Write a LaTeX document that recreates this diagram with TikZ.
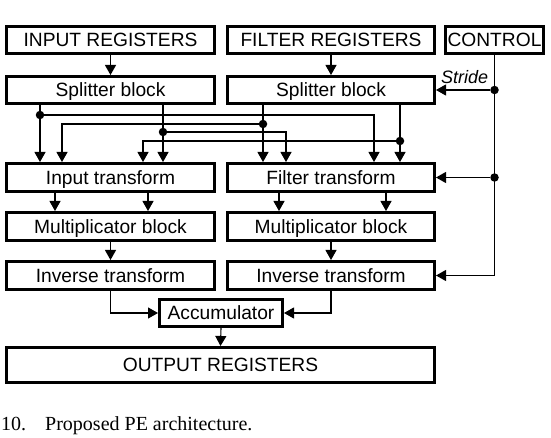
\documentclass[tikz,border=0pt]{standalone}
\usepackage{fontspec}
\setmainfont{Liberation Sans}
\newfontfamily\capfont{Liberation Serif}
\usetikzlibrary{arrows.meta}
\begin{document}
\begin{tikzpicture}[x=1pt,y=-1pt,
  box/.style={draw,line width=3pt,inner sep=0pt,minimum height=27pt,text height=13.75pt,text depth=0pt,font=\fontsize{19.2}{22}\selectfont},
  wideL/.style={box,minimum width=208pt},
  wideR/.style={box,minimum width=207pt},
  ln/.style={line width=1.1pt},
  arr/.style={ln,-{Triangle[length=10pt,width=11pt]}},
  dot/.style={circle,fill,inner sep=0pt,minimum size=8.5pt}]
\useasboundingbox (0,0) rectangle (551,438);
% boxes
\node[wideL] (inreg) at (110.5,40) {INPUT REGISTERS};
\node[wideR] (filreg) at (331,40) {FILTER REGISTERS};
\node[box,minimum width=98pt] (ctrl) at (494.5,40) {CONTROL};
\node[wideL] (splL) at (110.5,90) {Splitter block};
\node[wideR] (splR) at (331,90) {Splitter block};
\node[wideL,minimum height=28pt] (inT) at (110.5,177.5) {Input transform};
\node[wideR,minimum height=28pt] (filT) at (331,177.5) {Filter transform};
\node[wideL,minimum height=28pt] (mulL) at (110.5,226.5) {Multiplicator block};
\node[wideR,minimum height=28pt] (mulR) at (331,226.5) {Multiplicator block};
\node[wideL,minimum height=28pt] (invL) at (110.5,275.5) {Inverse transform};
\node[wideR,minimum height=28pt] (invR) at (331,275.5) {Inverse transform};
\node[box,minimum width=123pt] (acc) at (221,313) {Accumulator};
\node[box,minimum width=428pt,minimum height=35pt] (out) at (220.5,365) {OUTPUT REGISTERS};
% registers to splitters
\draw[arr] (inreg.south) -- (splL.north);
\draw[arr] (filreg.south) -- (splR.north);
% entry points on transforms
\coordinate (iA) at (40,162);
\coordinate (iB) at (62,162);
\coordinate (iC) at (143,162);
\coordinate (iD) at (163,162);
\coordinate (fA) at (263,162);
\coordinate (fB) at (286,162);
\coordinate (fC) at (374,162);
\coordinate (fD) at (400,162);
% junction dots
\node[dot] (d1) at (40,115) {};
\node[dot] (d2) at (263,124) {};
\node[dot] (d3) at (163,132) {};
\node[dot] (d4) at (400,141) {};
% splitter network
\draw[ln] (splL.south -| d1) -- (d1);
\draw[arr] (d1) -- (iA);
\draw[arr] (d1) -| (fC);
\draw[ln] (splR.south -| d2) -- (d2);
\draw[arr] (d2) -- (fA);
\draw[arr] (d2) -| (iB);
\draw[ln] (splL.south -| d3) -- (d3);
\draw[arr] (d3) -- (iD);
\draw[arr] (d3) -| (fB);
\draw[ln] (splR.south -| d4) -- (d4);
\draw[arr] (d4) -- (fD);
\draw[arr] (d4) -| (iC);
% transforms to multiplicators
\coordinate (xa) at (55,0);
\coordinate (xb) at (148,0);
\coordinate (xc) at (279,0);
\coordinate (xd) at (386,0);
\draw[arr] (inT.south -| xa) -- (mulL.north -| xa);
\draw[arr] (inT.south -| xb) -- (mulL.north -| xb);
\draw[arr] (filT.south -| xc) -- (mulR.north -| xc);
\draw[arr] (filT.south -| xd) -- (mulR.north -| xd);
% multiplicators to inverse
\draw[arr] (mulL.south) -- (invL.north);
\draw[arr] (mulR.south) -- (invR.north);
% inverse to accumulator
\draw[arr] (invL.south) |- (acc.west);
\draw[arr] (invR.south) |- (acc.east);
\draw[arr] (acc.south) -- (out.north);
% control
\node[dot] (s1) at (ctrl.south |- splR.east) {};
\node[dot] (s2) at (ctrl.south |- filT.east) {};
\coordinate (s3) at (ctrl.south |- invR.east);
\draw[ln] (ctrl.south) -- (s3);
\draw[arr] (s1) -- (splR.east);
\draw[arr] (s2) -- (filT.east);
\draw[arr] (s3) -- (invR.east);
\node[anchor=base west,inner sep=0pt,font=\fontsize{18}{20}\selectfont\itshape] (stride) at (441,84) {Stride};
% caption
\node[anchor=base west,inner sep=0pt,font=\capfont\fontsize{20}{24}\selectfont] (cap) at (1,430) {10.\hspace{19pt}Proposed PE architecture.};
\end{tikzpicture}
\end{document}
